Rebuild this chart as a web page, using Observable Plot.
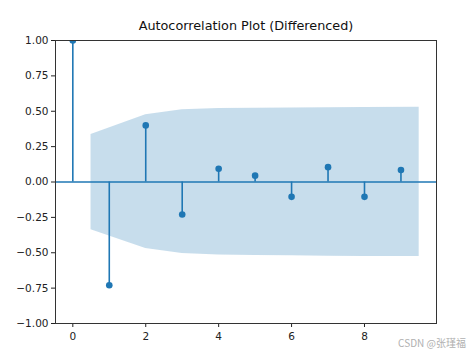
<!DOCTYPE html>
<html>
<head>
<meta charset="utf-8">
<script src="https://cdn.jsdelivr.net/npm/d3@7"></script>
<script src="https://cdn.jsdelivr.net/npm/@observablehq/plot@0.6"></script>
<style>
  html, body { margin: 0; padding: 0; background: #fff; }
  #chart { position: relative; width: 474px; height: 354px; }
  #wm { position: absolute; right: 8px; bottom: 4px; font: 10px "Noto Sans CJK SC", "DejaVu Sans", sans-serif; color: #b0b0b0; }
</style>
</head>
<body>
<div id="chart"></div>
<script>
const title = "Autocorrelation Plot (Differenced)";
const lags = [0, 1, 2, 3, 4, 5, 6, 7, 8, 9];
const acfValues = [1.0, -0.73, 0.40, -0.23, 0.094, 0.045, -0.105, 0.105, -0.105, 0.085];
const bandX = [0.5, 2, 3, 4, 5, 6, 7, 8, 9.5];
const bandUpper = [0.335, 0.475, 0.51, 0.52, 0.522, 0.523, 0.525, 0.527, 0.528];
const bandLower = [-0.337, -0.47, -0.505, -0.516, -0.52, -0.522, -0.524, -0.526, -0.527];
const xTicks = [0, 2, 4, 6, 8];
const yTicks = [-1, -0.75, -0.5, -0.25, 0, 0.25, 0.5, 0.75, 1];
const watermark = "CSDN @张瑾福";

const blue = "#1f77b4";
const points = lags.map((l, i) => ({lag: l, acf: acfValues[i]}));
const band = bandX.map((x, i) => ({x, hi: bandUpper[i], lo: bandLower[i]}));

const plot = Plot.plot({
  width: 474,
  height: 354,
  marginLeft: 55,
  marginRight: 38,
  marginTop: 40,
  marginBottom: 31,
  style: {fontFamily: "DejaVu Sans, sans-serif", fontSize: "10.5px", color: "#222", background: "#fff"},
  x: {domain: [-0.475, 9.975], ticks: xTicks, tickSize: 4, tickPadding: 5, tickFormat: d3.format("d"), label: null},
  y: {domain: [-1, 1], ticks: yTicks, tickSize: 4, tickPadding: 3, tickFormat: d3.format(".2f"), label: null},
  marks: [
    Plot.areaY(band, {x: "x", y1: "lo", y2: "hi", fill: blue, fillOpacity: 0.25}),
    Plot.ruleY([0], {stroke: blue, strokeWidth: 1.4}),
    Plot.ruleX(points, {x: "lag", y1: 0, y2: "acf", stroke: blue, strokeWidth: 1.6}),
    Plot.dot(points, {x: "lag", y: "acf", r: 3.3, fill: blue, stroke: "none", clip: true}),
    Plot.frame({stroke: "#333", strokeWidth: 1}),
    Plot.text([title], {frameAnchor: "top", dy: -11, fontSize: 12.8, fill: "#111", lineAnchor: "bottom"})
  ]
});
const chart = document.getElementById("chart");
chart.appendChild(plot);
const wm = document.createElement("div");
wm.id = "wm";
wm.textContent = watermark;
chart.appendChild(wm);
</script>
</body>
</html>
